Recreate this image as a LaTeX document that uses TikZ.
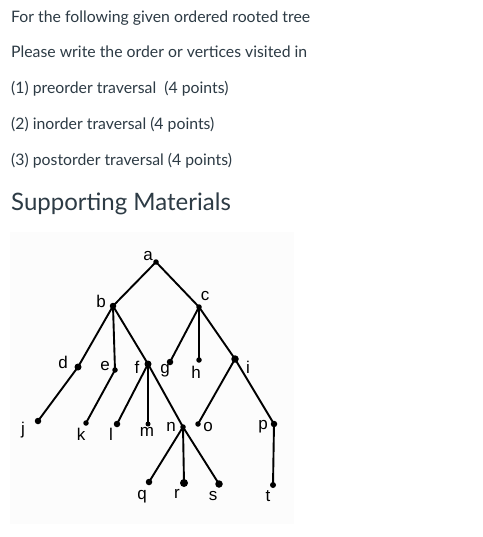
\documentclass[tikz,border=0pt]{standalone}
\usepackage{fontspec}
\setmainfont{Lato}
\newfontfamily\labelfont{Liberation Sans}
\definecolor{txt}{HTML}{2D3B45}
\definecolor{imgbg}{HTML}{FCFCFC}
\begin{document}
\begin{tikzpicture}[x=1pt,y=-1pt,
  body/.style={anchor=base west,inner sep=0pt,text=txt,font=\fontsize{15.8}{18}\selectfont},
  head/.style={anchor=base west,inner sep=0pt,text=txt,font=\fontsize{24}{28}\selectfont},
  vtx/.style={circle,fill=black,inner sep=0pt,minimum size=6.5pt},
  lab/.style={inner sep=0pt,font=\labelfont\fontsize{17}{17}\selectfont},
  edge/.style={line width=1.9pt,black}]
\useasboundingbox (0,0) rectangle (482,537);
\fill[white] (0,0) rectangle (482,537);
\fill[imgbg] (10,232) rectangle (294,524);
\node[body] (t1) at (11,23) {For the following given ordered rooted tree};
\node[body] (t2) at (11,58) {Please write the order or vertices visited in};
\node[body] (t3) at (11,94) {(1) preorder traversal\ \ (4 points)};
\node[body] (t4) at (11,130) {(2) inorder traversal (4 points)};
\node[body] (t5) at (11,166) {(3) postorder traversal (4 points)};
\node[head] (t6) at (11,211) {Supporting Materials};
% vertices
\node[vtx,minimum size=5.5pt] (a) at (156,262) {};
\node[vtx] (b) at (113,306) {};
\node[vtx,minimum size=5.5pt] (c) at (199,307) {};
\node[vtx,minimum size=7pt] (d) at (78,367) {};
\node[vtx,minimum size=5.5pt] (e) at (115,370) {};
\node[vtx,minimum size=7pt] (f) at (148,364) {};
\node[vtx] (g) at (170,362) {};
\node[vtx,minimum size=5.5pt] (h) at (199,360) {};
\node[vtx,minimum size=7.5pt] (i) at (235,359) {};
\node[vtx] (j) at (38,421) {};
\node[vtx,minimum size=5.5pt] (k) at (86,423) {};
\node[vtx] (l) at (117,424) {};
\node[vtx,minimum size=5pt] (m) at (148,424) {};
\node[vtx,minimum size=5.5pt] (n) at (183,427) {};
\node[vtx,minimum size=5.5pt] (o) at (198,424) {};
\node[vtx] (p) at (274,424) {};
\node[vtx] (q) at (149,482) {};
\node[vtx,minimum size=8pt] (r) at (184,483) {};
\node[vtx,minimum size=7.5pt] (s) at (219,484) {};
\node[vtx,minimum size=6pt] (t) at (273,485) {};
% edges
\draw[edge] (a.center) -- (b.center);
\draw[edge] (a.center) -- (c.center);
\draw[edge] (b.center) -- (d.center);
\draw[edge] (b.center) -- (e.center);
\draw[edge] (b.center) -- (f.center);
\draw[edge] (c.center) -- (g.center);
\draw[edge] (c.center) -- (h.center);
\draw[edge] (c.center) -- (i.center);
\draw[edge] (d.center) -- (j.center);
\draw[edge] (e.center) -- (k.center);
\draw[edge] (f.center) -- (l.center);
\draw[edge] (f.center) -- (m.center);
\draw[edge] (f.center) -- (n.center);
\draw[edge] (n.center) -- (q.center);
\draw[edge] (n.center) -- (r.center);
\draw[edge] (n.center) -- (s.center);
\draw[edge] (i.center) -- (o.center);
\draw[edge] (i.center) -- (p.center);
\draw[edge] (p.center) -- (t.center);
% labels
\node[lab] (la) at (148,256) {a};
\node[lab] (lb) at (101,301) {b};
\node[lab] (lc) at (205,296) {c};
\node[lab] (ld) at (63,362) {d};
\node[lab] (le) at (105,366) {e};
\node[lab] (lf) at (137,367) {f};
\node[lab] (lg) at (165,371) {g};
\node[lab] (lh) at (196,372) {h};
\node[lab] (li) at (248,367) {i};
\node[lab] (lj) at (23,430) {j};
\node[lab] (lk) at (81,434) {k};
\node[lab] (ll) at (111,434) {l};
\node[lab] (lm) at (147,432) {m};
\node[lab] (ln) at (171,427) {n};
\node[lab] (lo) at (208,427) {o};
\node[lab] (lp) at (263,427) {p};
\node[lab] (lq) at (142,497) {q};
\node[lab] (lr) at (177,494) {r};
\node[lab] (ls) at (213,496) {s};
\node[lab] (lt) at (268,496) {t};
\end{tikzpicture}
\end{document}
